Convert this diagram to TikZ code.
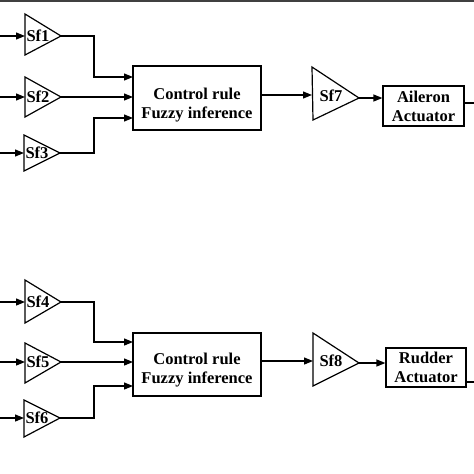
\documentclass[tikz,border=0pt]{standalone}
\usepackage{fontspec}
\setmainfont{Liberation Serif}
\usetikzlibrary{arrows.meta,calc}
\begin{document}
\begin{tikzpicture}[x=1pt,y=-1pt,
  wire/.style={line width=1.2pt},
  arr/.style={wire,-{Triangle[length=9pt,width=7pt]}},
  blk/.style={draw,line width=1.2pt,inner sep=0pt},
  lbl/.style={font=\fontsize{16.5}{18.8}\selectfont\bfseries,align=center,inner sep=0pt},
  amp/.style={line width=1.2pt,line join=miter}]
\useasboundingbox (0,0) rectangle (474,474);
\fill[black!75] (0,0) rectangle (474,2.3);
% ---------- amplifiers (triangles) ----------
% Sf1
\draw[amp] (25,14) -- (61,36) -- (25,55) -- cycle;
\coordinate (s1in) at (25,36); \coordinate (s1out) at (61,36);
\node[lbl] (s1) at (38,36) {Sf1};
% Sf2
\draw[amp] (25,77) -- (61,97) -- (25,117) -- cycle;
\coordinate (s2in) at (25,97); \coordinate (s2out) at (61,97);
\node[lbl] (s2) at (38,97) {Sf2};
% Sf3
\draw[amp] (24,135) -- (60,153) -- (24,171) -- cycle;
\coordinate (s3in) at (24,153); \coordinate (s3out) at (60,153);
\node[lbl] (s3) at (37,153) {Sf3};
% Sf4
\draw[amp] (25,280) -- (61,302) -- (25,323) -- cycle;
\coordinate (s4in) at (25,302); \coordinate (s4out) at (61,302);
\node[lbl] (s4) at (38,302) {Sf4};
% Sf5
\draw[amp] (25,343) -- (61,362) -- (25,383) -- cycle;
\coordinate (s5in) at (25,362); \coordinate (s5out) at (61,362);
\node[lbl] (s5) at (38,362) {Sf5};
% Sf6
\draw[amp] (24,400) -- (60,418) -- (24,437) -- cycle;
\coordinate (s6in) at (24,418); \coordinate (s6out) at (60,418);
\node[lbl] (s6) at (37,418) {Sf6};
% Sf7
\draw[amp] (312,67) -- (359,98) -- (313,120) -- cycle;
\coordinate (s7in) at (312,95); \coordinate (s7out) at (359,98);
\node[lbl] (s7) at (331,96) {Sf7};
% Sf8
\draw[amp] (313,333) -- (359,363) -- (313,386) -- cycle;
\coordinate (s8in) at (313,361); \coordinate (s8out) at (359,363);
\node[lbl] (s8) at (331,361) {Sf8};
% ---------- boxes ----------
\node[blk,minimum width=128pt,minimum height=64pt] (cr1) at (197,98) {};
\node[lbl] (cr1t) at (197,105) {Control rule\\Fuzzy inference};
\node[blk,minimum width=128pt,minimum height=63pt] (cr2) at (197,364.5) {};
\node[lbl] (cr2t) at (197,370) {Control rule\\Fuzzy inference};
\node[blk,minimum width=81pt,minimum height=40pt,lbl,draw] (ail) at (423.5,106) {Aileron\\Actuator};
\node[blk,minimum width=80pt,minimum height=39pt,lbl,draw] (rud) at (426,367.5) {Rudder\\Actuator};
% ---------- ports ----------
\foreach \n/\y in {i1/36,i2/97,i3/153,i4/302,i5/362,i6/418} {\coordinate (\n) at (0,\y);}
\coordinate (c1a) at (133,77); \coordinate (c1b) at (133,97); \coordinate (c1c) at (133,118);
\coordinate (c2a) at (133,342); \coordinate (c2b) at (133,362); \coordinate (c2c) at (133,386);
\coordinate (o1) at (474,103); \coordinate (o2) at (474,382);
% ---------- connectors ----------
\foreach \a/\b in {i1/s1in,i2/s2in,i3/s3in,i4/s4in,i5/s5in,i6/s6in} {\draw[arr] (\a) -- (\b);}
\draw[arr] (s1out) -- ($(s1out)+(33,0)$) |- (c1a);
\draw[arr] (s2out) -- (c1b);
\draw[arr] (s3out) -- ($(s3out)+(34,0)$) |- (c1c);
\draw[arr] (s4out) -- ($(s4out)+(33,0)$) |- (c2a);
\draw[arr] (s5out) -- (c2b);
\draw[arr] (s6out) -- ($(s6out)+(34,0)$) |- (c2c);
\draw[arr] (cr1.east |- s7in) -- (s7in);
\draw[arr] (cr2.east |- s8in) -- (s8in);
\draw[arr] (s7out) -- (ail.west |- s7out);
\draw[arr] (s8out) -- (rud.west |- s8out);
\draw[wire] (ail.east |- o1) -- (o1);
\draw[wire] (rud.east |- o2) -- (o2);
\end{tikzpicture}
\end{document}
